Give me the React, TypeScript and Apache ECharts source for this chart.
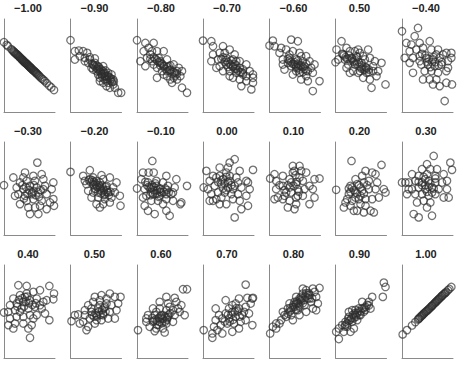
import React, { useEffect, useRef } from "react";
import * as echarts from "echarts";

// Panel titles (correlation labels) as printed
const titles: string[] = [
  "\u22121.00", "\u22120.90", "\u22120.80", "\u22120.70", "\u22120.60", "0.50", "\u22120.40",
  "\u22120.30", "\u22120.20", "\u22120.10", "0.00", "0.10", "0.20", "0.30",
  "0.40", "0.50", "0.60", "0.70", "0.80", "0.90", "1.00",
];

// Point clouds (x, y)
const p01: number[][] = [
  [0, 210], [8, 202], [12, 198], [22, 189], [28, 183], [32, 179], [36, 175], [40, 172], [44, 168], [48, 164],
  [52, 160], [55, 157], [58, 154], [61, 151], [64, 148], [67, 146], [70, 143], [73, 140], [76, 137], [79, 134],
  [82, 131], [86, 127], [90, 124], [94, 120], [98, 116], [103, 111], [110, 104], [118, 97], [128, 87], [136, 79],
  [142, 74], [150, 66], [25, 186], [30, 181], [34, 177], [38, 174], [42, 170], [46, 166], [50, 162], [54, 158],
  [57, 155], [60, 152], [63, 149], [66, 147], [69, 144], [72, 141], [75, 138], [78, 135], [81, 132], [84, 129],
  [88, 125], [92, 122], [96, 118], [100, 114], [106, 108], [114, 100], [122, 93],
];
const p02: number[][] = [
  [0, 216], [13, 183], [25, 185], [38, 183], [50, 178], [13, 158], [28, 168], [43, 163], [58, 165], [73, 161],
  [53, 148], [68, 143], [83, 138], [88, 128], [98, 123], [78, 123], [63, 133], [93, 113], [108, 108], [118, 103],
  [103, 98], [88, 103], [113, 88], [128, 98], [98, 88], [108, 78], [133, 73], [143, 58], [152, 58], [118, 73],
  [123, 113], [73, 148], [58, 158], [43, 153], [83, 113], [98, 138], [113, 118], [128, 83], [88, 93], [103, 108],
  [68, 128], [70, 140], [80, 130], [90, 120], [100, 115], [110, 100], [120, 95], [95, 105], [85, 125], [105, 125],
  [115, 105], [125, 90], [75, 135], [65, 145], [78, 140], [92, 128], [102, 118], [112, 110], [122, 100], [130, 92],
  [95, 115], [85, 135], [108, 95],
];
const p03: number[][] = [
  [0, 216], [25, 208], [50, 208], [10, 153], [20, 183], [35, 193], [60, 183], [80, 183], [25, 138], [45, 153],
  [65, 163], [90, 158], [110, 143], [60, 133], [80, 138], [100, 128], [120, 123], [135, 123], [90, 108], [110, 103],
  [130, 108], [105, 88], [120, 98], [60, 103], [80, 113], [135, 73], [150, 58], [40, 173], [50, 143], [70, 153],
  [95, 138], [115, 118], [75, 123], [30, 163], [45, 183], [90, 123], [125, 133], [100, 98], [55, 160], [65, 150],
  [75, 145], [85, 130], [95, 125], [105, 115], [115, 110], [40, 160], [70, 140], [100, 140], [50, 165], [60, 155],
  [70, 148], [80, 140], [90, 135], [100, 125], [110, 120], [120, 115],
];
const p04: number[][] = [
  [0, 215], [25, 213], [30, 198], [60, 198], [30, 173], [50, 178], [80, 188], [25, 153], [45, 158], [70, 163],
  [90, 158], [110, 153], [50, 138], [70, 143], [90, 138], [110, 133], [130, 143], [80, 123], [100, 118], [120, 113],
  [140, 123], [150, 113], [90, 103], [110, 98], [130, 93], [150, 88], [115, 78], [145, 68], [80, 108], [60, 123],
  [40, 133], [130, 108], [100, 153], [65, 178], [95, 173], [120, 128], [150, 103], [55, 160], [65, 150], [75, 150],
  [85, 140], [95, 130], [105, 125], [115, 120], [75, 135], [85, 155], [100, 140], [60, 165], [70, 155], [80, 145],
  [90, 135], [100, 130], [110, 120], [120, 118], [95, 145],
];
const p05: number[][] = [
  [0, 200], [10, 215], [15, 198], [35, 193], [65, 218], [85, 213], [30, 178], [50, 188], [70, 183], [90, 178],
  [110, 168], [40, 158], [60, 163], [80, 158], [100, 153], [120, 153], [45, 128], [65, 138], [85, 133], [105, 138],
  [125, 133], [70, 113], [90, 118], [110, 108], [130, 118], [95, 98], [115, 93], [150, 93], [130, 63], [55, 148],
  [75, 143], [95, 168], [115, 123], [135, 143], [60, 173], [80, 123], [40, 143], [55, 160], [65, 150], [75, 150],
  [85, 145], [95, 140], [105, 130], [100, 120], [90, 128], [80, 140], [110, 145], [60, 155], [70, 145], [80, 135],
  [90, 140], [100, 135], [110, 125], [85, 155],
];
const p06: number[][] = [
  [0, 150], [3, 188], [18, 213], [33, 193], [23, 173], [43, 183], [58, 183], [68, 188], [98, 188], [8, 158],
  [28, 158], [48, 163], [63, 168], [83, 168], [103, 163], [38, 143], [58, 143], [78, 148], [93, 133], [113, 138],
  [138, 148], [53, 123], [73, 123], [93, 118], [113, 123], [83, 103], [103, 98], [123, 108], [108, 73], [150, 83],
  [68, 118], [43, 118], [33, 133], [88, 158], [73, 178], [53, 153], [118, 153], [128, 123], [20, 175], [30, 165],
  [40, 170], [50, 160], [60, 155], [70, 150], [80, 140], [90, 135], [85, 128], [75, 135], [100, 128], [65, 165],
  [25, 170], [35, 160], [45, 155], [55, 150], [65, 145], [78, 130], [90, 128], [100, 120],
];
const p07: number[][] = [
  [0, 243], [48, 253], [38, 228], [13, 208], [28, 203], [53, 208], [83, 213], [8, 163], [23, 183], [43, 188],
  [63, 193], [88, 188], [108, 188], [133, 178], [148, 178], [33, 163], [53, 168], [73, 163], [93, 158], [113, 163],
  [138, 153], [148, 163], [58, 143], [78, 143], [98, 138], [118, 143], [138, 133], [68, 123], [88, 123], [108, 118],
  [133, 123], [33, 118], [63, 98], [83, 98], [103, 98], [93, 83], [113, 78], [133, 88], [150, 83], [128, 33],
  [23, 148], [53, 153], [103, 173], [123, 173], [60, 175], [70, 170], [80, 160], [90, 150], [100, 150], [110, 140],
  [120, 150], [95, 165], [75, 150], [85, 135],
];
const p08: number[][] = [
  [0, 150], [100, 218], [28, 173], [63, 188], [88, 178], [113, 183], [48, 158], [68, 163], [93, 163], [118, 168],
  [148, 158], [38, 143], [58, 138], [78, 148], [98, 143], [123, 148], [143, 138], [43, 123], [63, 118], [83, 123],
  [103, 128], [128, 123], [148, 108], [48, 93], [68, 103], [88, 108], [113, 103], [138, 98], [150, 88], [78, 63],
  [103, 63], [128, 78], [73, 83], [93, 83], [108, 88], [58, 173], [33, 118], [118, 138], [88, 133], [55, 150],
  [65, 145], [75, 135], [85, 128], [95, 120], [105, 115], [70, 125], [90, 150], [110, 135], [60, 110],
];
const p09: number[][] = [
  [0, 190], [43, 163], [58, 195], [38, 178], [68, 173], [93, 180], [118, 173], [138, 158], [48, 153], [68, 153],
  [88, 158], [108, 148], [53, 133], [73, 138], [93, 133], [113, 128], [133, 128], [148, 118], [63, 113], [83, 113],
  [103, 108], [123, 113], [78, 93], [98, 93], [88, 83], [150, 88], [58, 168], [78, 163], [98, 168], [128, 143],
  [118, 98], [103, 123], [83, 128], [68, 128], [60, 160], [70, 150], [80, 145], [90, 140], [100, 135], [110, 135],
  [85, 150], [95, 150], [75, 140], [105, 145], [100, 120], [115, 120], [55, 165], [65, 165], [75, 155], [88, 145],
  [98, 140], [108, 130], [92, 125], [78, 150], [70, 160], [120, 130],
];
const p10: number[][] = [
  [0, 140], [46, 223], [18, 188], [35, 188], [50, 188], [13, 168], [33, 158], [58, 163], [88, 178], [118, 168],
  [150, 148], [23, 138], [43, 143], [68, 138], [93, 148], [113, 143], [28, 118], [48, 123], [68, 118], [88, 123],
  [108, 128], [133, 98], [130, 93], [23, 88], [43, 103], [63, 103], [88, 108], [108, 103], [33, 73], [53, 63],
  [88, 73], [98, 58], [78, 93], [18, 113], [58, 148], [78, 158], [103, 123], [73, 128], [43, 128], [30, 150],
  [40, 140], [50, 135], [60, 135], [70, 140], [80, 130], [55, 125], [65, 115], [45, 150], [90, 135], [25, 160],
  [35, 145], [50, 145], [60, 125], [70, 130], [85, 140], [95, 128], [40, 120], [55, 155],
];
const p11: number[][] = [
  [2, 143], [10, 193], [30, 178], [50, 203], [75, 203], [95, 228], [80, 218], [110, 193], [150, 196], [20, 163],
  [40, 173], [60, 168], [80, 178], [100, 173], [130, 163], [15, 138], [35, 148], [55, 153], [75, 143], [95, 148],
  [115, 143], [135, 158], [140, 138], [25, 123], [45, 128], [65, 128], [85, 123], [105, 123], [130, 118], [20, 103],
  [40, 108], [70, 93], [90, 108], [110, 103], [115, 78], [95, 53], [135, 88], [55, 113], [80, 163], [105, 158],
  [70, 188], [30, 103], [50, 93], [45, 160], [55, 165], [65, 155], [75, 160], [85, 150], [60, 140], [70, 135],
  [90, 138], [50, 178], [70, 175],
];
const p12: number[][] = [
  [2, 170], [15, 183], [20, 163], [40, 178], [60, 168], [70, 208], [90, 208], [75, 193], [95, 193], [110, 188],
  [135, 168], [150, 170], [20, 138], [40, 148], [60, 143], [80, 153], [100, 163], [120, 148], [25, 113], [45, 118],
  [65, 128], [85, 138], [105, 138], [130, 138], [40, 108], [60, 103], [80, 113], [100, 118], [135, 113], [55, 83],
  [75, 78], [80, 93], [120, 93], [65, 158], [90, 173], [50, 128], [15, 108], [70, 188], [85, 118], [78, 180],
  [82, 160], [72, 148], [88, 130], [30, 150], [45, 135], [55, 150],
];
const p13: number[][] = [
  [2, 136], [48, 223], [138, 211], [60, 168], [80, 178], [90, 193], [110, 188], [120, 183], [45, 148], [65, 153],
  [85, 158], [100, 163], [125, 158], [40, 123], [60, 128], [80, 133], [100, 138], [120, 138], [145, 138], [150, 128],
  [30, 98], [50, 103], [70, 108], [90, 108], [110, 108], [130, 113], [25, 83], [45, 88], [65, 73], [85, 68],
  [105, 73], [115, 68], [55, 73], [90, 88], [50, 143], [75, 143], [35, 108], [75, 93], [45, 130], [55, 135],
  [65, 125], [75, 118], [85, 125], [95, 150], [60, 113], [70, 150], [40, 140],
];
const p14: number[][] = [
  [0, 158], [95, 238], [145, 218], [150, 196], [75, 213], [60, 198], [85, 198], [30, 183], [50, 178], [75, 183],
  [100, 178], [125, 183], [20, 158], [40, 163], [60, 158], [80, 163], [100, 158], [120, 158], [135, 163], [30, 138],
  [50, 143], [70, 138], [90, 143], [110, 138], [135, 138], [15, 123], [40, 123], [60, 123], [80, 118], [100, 123],
  [125, 113], [140, 113], [45, 98], [65, 103], [85, 98], [75, 83], [35, 63], [50, 53], [90, 58], [10, 158],
  [20, 138], [105, 198], [70, 168], [90, 128], [50, 160], [60, 150], [70, 150], [80, 145], [85, 155], [95, 140],
  [75, 130], [65, 175], [100, 170],
];
const p15: number[][] = [
  [0, 137], [43, 219], [68, 217], [136, 217], [150, 194], [148, 177], [28, 179], [48, 189], [68, 194], [88, 199],
  [108, 204], [128, 174], [18, 159], [38, 164], [58, 169], [78, 174], [98, 179], [118, 169], [13, 139], [33, 144],
  [53, 149], [73, 149], [93, 154], [113, 149], [18, 119], [38, 124], [58, 124], [78, 129], [98, 129], [123, 134],
  [13, 99], [33, 104], [58, 104], [83, 99], [28, 89], [73, 89], [78, 61], [136, 114], [48, 139], [88, 119],
  [108, 159], [63, 184], [45, 175], [55, 180], [65, 170], [75, 165], [85, 160], [60, 155], [70, 185], [95, 165],
  [40, 155],
];
const p16: number[][] = [
  [3, 111], [23, 131], [43, 144], [53, 159], [73, 184], [93, 189], [68, 169], [88, 174], [108, 179], [133, 184],
  [150, 184], [43, 129], [63, 139], [83, 149], [103, 154], [123, 159], [143, 164], [38, 109], [58, 119], [78, 129],
  [98, 134], [118, 139], [138, 144], [53, 94], [73, 104], [93, 114], [113, 119], [133, 119], [48, 84], [28, 104],
  [13, 129], [88, 159], [108, 164], [118, 194], [78, 114], [98, 129], [63, 149], [65, 130], [75, 135], [85, 140],
  [95, 145], [105, 140], [80, 125], [90, 130], [70, 125], [100, 150],
];
const p17: number[][] = [
  [3, 84], [138, 207], [150, 207], [88, 184], [113, 181], [68, 169], [93, 164], [118, 169], [133, 159], [48, 149],
  [68, 149], [88, 144], [108, 144], [128, 139], [33, 129], [53, 129], [73, 129], [93, 124], [113, 129], [143, 129],
  [28, 109], [48, 109], [68, 109], [88, 104], [108, 109], [38, 94], [58, 89], [78, 89], [53, 81], [83, 77],
  [28, 119], [58, 139], [98, 154], [78, 117], [123, 149], [55, 115], [65, 120], [75, 120], [85, 125], [95, 130],
  [60, 100], [75, 105], [90, 115], [45, 120], [50, 112], [60, 112], [70, 125], [80, 128], [90, 120], [100, 135],
  [65, 100], [85, 110],
];
const p18: number[][] = [
  [2, 84], [128, 221], [38, 149], [68, 174], [88, 159], [108, 179], [133, 181], [150, 181], [48, 129], [68, 134],
  [88, 139], [108, 149], [128, 154], [143, 164], [38, 114], [58, 119], [78, 119], [98, 124], [118, 129], [138, 134],
  [33, 94], [53, 99], [73, 104], [93, 104], [113, 109], [28, 74], [28, 61], [58, 74], [88, 79], [108, 89],
  [148, 99], [128, 114], [78, 149], [43, 84], [98, 164], [123, 139], [148, 179], [75, 130], [85, 130], [95, 140],
  [105, 140], [80, 110], [90, 115], [110, 125], [65, 110], [100, 150],
];
const p19: number[][] = [
  [2, 74], [20, 89], [10, 94], [20, 104], [35, 114], [45, 129], [60, 139], [70, 154], [80, 164], [90, 179],
  [100, 194], [110, 204], [130, 209], [150, 211], [40, 139], [55, 149], [75, 169], [95, 184], [115, 189], [135, 199],
  [50, 124], [65, 129], [85, 144], [105, 159], [125, 169], [140, 184], [70, 114], [90, 129], [110, 139], [130, 149],
  [145, 164], [30, 104], [80, 184], [100, 209], [120, 179], [60, 164], [140, 144], [90, 154], [55, 134], [65, 144],
  [75, 154], [85, 164], [95, 170], [105, 175], [115, 180], [100, 165], [80, 145], [120, 190], [110, 195], [62, 150],
  [72, 160], [82, 170], [92, 175], [108, 185], [118, 195], [128, 180], [88, 158], [98, 180],
];
const p20: number[][] = [
  [2, 79], [10, 57], [145, 227], [150, 214], [142, 184], [110, 184], [100, 169], [80, 169], [90, 154], [70, 149],
  [50, 144], [60, 129], [40, 124], [30, 109], [50, 109], [20, 99], [10, 89], [35, 94], [55, 89], [75, 129],
  [85, 139], [65, 114], [45, 79], [25, 79], [105, 149], [40, 139], [55, 120], [65, 135], [45, 115], [35, 104],
  [75, 140], [95, 160], [28, 95], [62, 124], [85, 150], [30, 100], [40, 112], [48, 120], [52, 130], [58, 135],
  [68, 140], [72, 130], [80, 150], [90, 145], [100, 158], [38, 118], [60, 145],
];
const p21: number[][] = [
  [2, 71], [15, 84], [30, 98], [40, 108], [50, 118], [55, 123], [60, 128], [65, 133], [70, 138], [75, 142],
  [80, 147], [85, 152], [90, 157], [95, 162], [100, 167], [105, 172], [110, 177], [115, 182], [120, 187], [125, 192],
  [130, 196], [138, 204], [148, 214], [48, 116], [52, 120], [58, 126], [62, 130], [67, 135], [72, 140], [78, 145],
  [82, 149], [88, 155], [92, 159], [98, 165], [102, 169], [108, 175], [112, 179], [118, 185], [122, 189], [128, 194],
  [133, 199], [142, 208],
];

const panels: number[][][] = [
  p01, p02, p03, p04, p05, p06, p07,
  p08, p09, p10, p11, p12, p13, p14,
  p15, p16, p17, p18, p19, p20, p21,
];

const colLeft = [4, 70.5, 137, 203, 269.5, 335.5, 402];
const rowTop = [19, 142, 265];
const PANEL_W = 51;
const PANEL_H = 93;
const X_MAX = 153;
const Y_MAX = 280;

export default function App() {
  const ref = useRef<HTMLDivElement>(null);
  useEffect(() => {
    if (!ref.current) return;
    const chart = echarts.init(ref.current, null, { renderer: "svg" });
    const grid: any[] = [];
    const xAxis: any[] = [];
    const yAxis: any[] = [];
    const series: any[] = [];
    const graphic: any[] = [];
    const axisLine = { show: true, onZero: false, lineStyle: { color: "#8a8a8a", width: 1 } };
    panels.forEach((data, i) => {
      const c = i % 7;
      const r = Math.floor(i / 7);
      grid.push({ left: colLeft[c], top: rowTop[r], width: PANEL_W, height: PANEL_H, containLabel: false });
      xAxis.push({
        type: "value", gridIndex: i, min: 0, max: X_MAX,
        axisLine, axisTick: { show: false }, axisLabel: { show: false }, splitLine: { show: false },
      });
      yAxis.push({
        type: "value", gridIndex: i, min: 0, max: Y_MAX,
        axisLine, axisTick: { show: false }, axisLabel: { show: false }, splitLine: { show: false },
      });
      series.push({
        type: "scatter", xAxisIndex: i, yAxisIndex: i, data,
        symbol: "circle", symbolSize: 7.5, silent: true, clip: false,
        itemStyle: { color: "rgba(0,0,0,0)", borderColor: "rgba(45,45,45,0.85)", borderWidth: 1.25 },
      });
      graphic.push({
        type: "text",
        x: colLeft[c] + 24,
        y: rowTop[r] - 11,
        style: {
          text: titles[i], fontSize: 11, fontFamily: "Liberation Sans, Arial, sans-serif",
          fontWeight: "bold", fill: "#222", align: "center", verticalAlign: "middle",
        },
      });
    });
    chart.setOption({
      animation: false,
      backgroundColor: "#ffffff",
      grid, xAxis, yAxis, series, graphic,
    });
    return () => chart.dispose();
  }, []);
  return (
    <div
      ref={ref}
      style={{ position: "absolute", left: 0, top: 0, width: 474, height: 367 }}
    />
  );
}
